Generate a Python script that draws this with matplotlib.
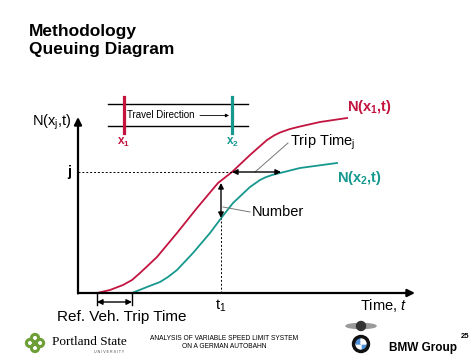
"""Queuing diagram: cumulative vehicle counts at two detectors."""

from matplotlib import pyplot
from matplotlib import patches


# Cumulative count curves (time, vehicles).
t_up = [1.9, 3.2, 4.5, 5.4, 6.2, 7.9, 9.9, 11.9, 14.0, 15.4, 17.2, 18.9,
        19.6, 20.2, 21.2, 22.2, 24.2, 26.9]
n_up = [0.0, 0.3, 0.8, 1.3, 2.0, 3.6, 6.0, 8.5, 11.0, 12.1, 13.8, 15.3,
        15.75, 16.05, 16.4, 16.65, 17.1, 17.5]
t_down = [5.4, 6.9, 8.2, 9.0, 9.9, 11.5, 13.2, 14.4, 15.5, 17.2, 18.2, 18.7,
          19.4, 20.2, 22.2, 25.9]
n_down = [0.0, 0.6, 1.1, 1.6, 2.3, 4.0, 6.0, 7.6, 9.0, 10.6, 11.3, 11.55,
          11.8, 12.0, 12.5, 13.0]

j_level = 12.1  # vehicle number j
t1 = 14.3  # time instant t1
n_up_t1, n_down_t1 = 11.0, 7.5  # counts at t1
trip_start, trip_end = 15.4, 20.3  # trip time of vehicle j
ref_start, ref_end = 1.9, 5.4  # reference vehicle trip time
x1_pos, x2_pos = 4.6, 15.4  # detector locations in the sketch

red = '#C3143F'
teal = '#16988E'

pyplot.rc('font', family='Liberation Sans', size=10)
pyplot.rc('mathtext', fontset='custom', rm='Liberation Sans',
          it='Liberation Sans:italic', bf='Liberation Sans:bold')

fig = pyplot.figure(figsize=(4.74, 3.55), dpi=100)

# Decoration layer in pixel units.
deco = fig.add_axes([0, 0, 1, 1])
deco.set_xlim(0, 474)
deco.set_ylim(355, 0)
deco.axis('off')

deco.text(29, 36, 'Methodology', fontsize=12.5, fontweight='bold',
          va='baseline')
deco.text(29, 54, 'Queuing Diagram', fontsize=12.5, fontweight='bold',
          va='baseline')

# Footer.
deco.text(224, 338, 'ANALYSIS OF VARIABLE SPEED LIMIT SYSTEM', fontsize=4.8,
          ha='center', va='center')
deco.text(224, 347, 'ON A GERMAN AUTOBAHN', fontsize=4.8, ha='center',
          va='center')
deco.text(52, 342, 'Portland State', family='Liberation Serif', fontsize=9.5,
          va='center')
deco.text(109, 352, 'U N I V E R S I T Y', fontsize=2.6, ha='center',
          va='center', color='#444444')
green = '#6E9E36'
for dx, dy in [(-5, 0), (5, 0), (0, -5), (0, 5)]:
    deco.add_patch(patches.Circle((35 + dx, 343 + dy), 3.6, fill=False,
                                  edgecolor=green, lw=2.2))
deco.text(389, 348, 'BMW Group', fontsize=8.5, fontweight='bold',
          va='center')
deco.text(465, 337, '25', fontsize=5.5, fontweight='bold', ha='center',
          va='center')
deco.add_patch(patches.Circle((361, 344), 8.5, color='#111111'))
for k, c in enumerate(['#4F8FD8', 'white', '#4F8FD8', 'white']):
    deco.add_patch(patches.Wedge((361, 344), 5.0, 90 * k, 90 * (k + 1),
                                 color=c))
deco.add_patch(patches.Ellipse((361, 326), 30, 5, color='#9A9A9A'))
deco.add_patch(patches.Circle((361, 326), 4.5, color='#333333'))

# Chart axes in time/count units.
ax = fig.add_axes([78 / 474, 62 / 355, 337 / 474, 176 / 355])
ax.set_xlim(0.0, 33.7)
ax.set_ylim(0.0, 17.6)
ax.axis('off')

axis_arrow = dict(arrowstyle='-|>', color='black', lw=1.6,
                  mutation_scale=11, shrinkA=0, shrinkB=0)
ax.annotate('', xy=(33.7, 0), xytext=(0, 0), arrowprops=axis_arrow,
            annotation_clip=False)
ax.annotate('', xy=(0, 17.6), xytext=(0, -0.05), arrowprops=axis_arrow,
            annotation_clip=False)

ax.plot(t_up, n_up, color=red, lw=1.3, clip_on=False)
ax.plot(t_down, n_down, color=teal, lw=1.3, clip_on=False)

# Guide lines.
ax.plot([0, trip_start], [j_level, j_level], color='black', lw=0.7,
        linestyle=(0, (2, 2)))
ax.plot([t1, t1], [0, n_down_t1], color='black', lw=0.7,
        linestyle=(0, (2, 2)))

both = dict(arrowstyle='<|-|>', color='black', lw=1.0, mutation_scale=8,
            shrinkA=0, shrinkB=0)
ax.annotate('', xy=(trip_end, j_level), xytext=(trip_start, j_level),
            arrowprops=both)
ax.annotate('', xy=(t1, n_down_t1), xytext=(t1, n_up_t1), arrowprops=both)
ax.annotate('', xy=(ref_end, -0.9), xytext=(ref_start, -0.9),
            arrowprops=both, annotation_clip=False)
for t in (ref_start, ref_end):
    ax.plot([t, t], [0, -1.2], color='black', lw=1.0, clip_on=False)

# Leader lines.
ax.plot([17.7, 21.0], [j_level, 15.0], color='#777777', lw=0.7)
ax.plot([14.5, 17.2], [8.6, 8.1], color='#777777', lw=0.7)

# Labels.
ax.text(-0.6, 17.1, 'N(x$_\\mathrm{j}$,t)', fontsize=10.5, ha='right',
        va='center')
ax.text(-0.9, j_level, 'j', fontsize=10.5, fontweight='bold', ha='center',
        va='center')
ax.text(t1, -1.25, 't$_1$', fontsize=10.5, ha='center', va='center')
ax.text(32.9, -1.25, 'Time, $\\it{t}$', fontsize=10.5, ha='right',
        va='center')
ax.text(-2.1, -2.4, 'Ref. Veh. Trip Time', fontsize=11, ha='left',
        va='center')
ax.text(26.9, 18.6, 'N(x$_\\mathbf{1}$,t)', fontsize=10.5, color=red,
        fontweight='bold', va='center')
ax.text(25.9, 11.5, 'N(x$_\\mathbf{2}$,t)', fontsize=10.5, color=teal,
        fontweight='bold', va='center')
ax.text(21.2, 15.1, 'Trip Time$_\\mathrm{j}$', fontsize=10.5, va='center')
ax.text(17.4, 8.1, 'Number', fontsize=10.5, va='center')

# Road sketch with the two detectors.
for n in (18.9, 16.7):
    ax.plot([3.0, 17.0], [n, n], color='black', lw=1.0, clip_on=False)
ax.plot([x1_pos, x1_pos], [16.0, 19.6], color=red, lw=2.3, clip_on=False)
ax.plot([x2_pos, x2_pos], [16.0, 19.6], color=teal, lw=2.3, clip_on=False)
ax.text(4.9, 17.75, 'Travel Direction', fontsize=7, va='center')
ax.annotate('', xy=(15.1, 17.75), xytext=(12.2, 17.75),
            arrowprops=dict(arrowstyle='-|>', color='black', lw=0.6,
                            mutation_scale=5, shrinkA=0, shrinkB=0),
            annotation_clip=False)
ax.text(x1_pos, 15.1, 'x$_\\mathbf{1}$', fontsize=8.5, color=red,
        fontweight='bold', ha='center', va='center')
ax.text(x2_pos, 15.1, 'x$_\\mathbf{2}$', fontsize=8.5, color=teal,
        fontweight='bold', ha='center', va='center')

fig.savefig('out.png', dpi=100)
